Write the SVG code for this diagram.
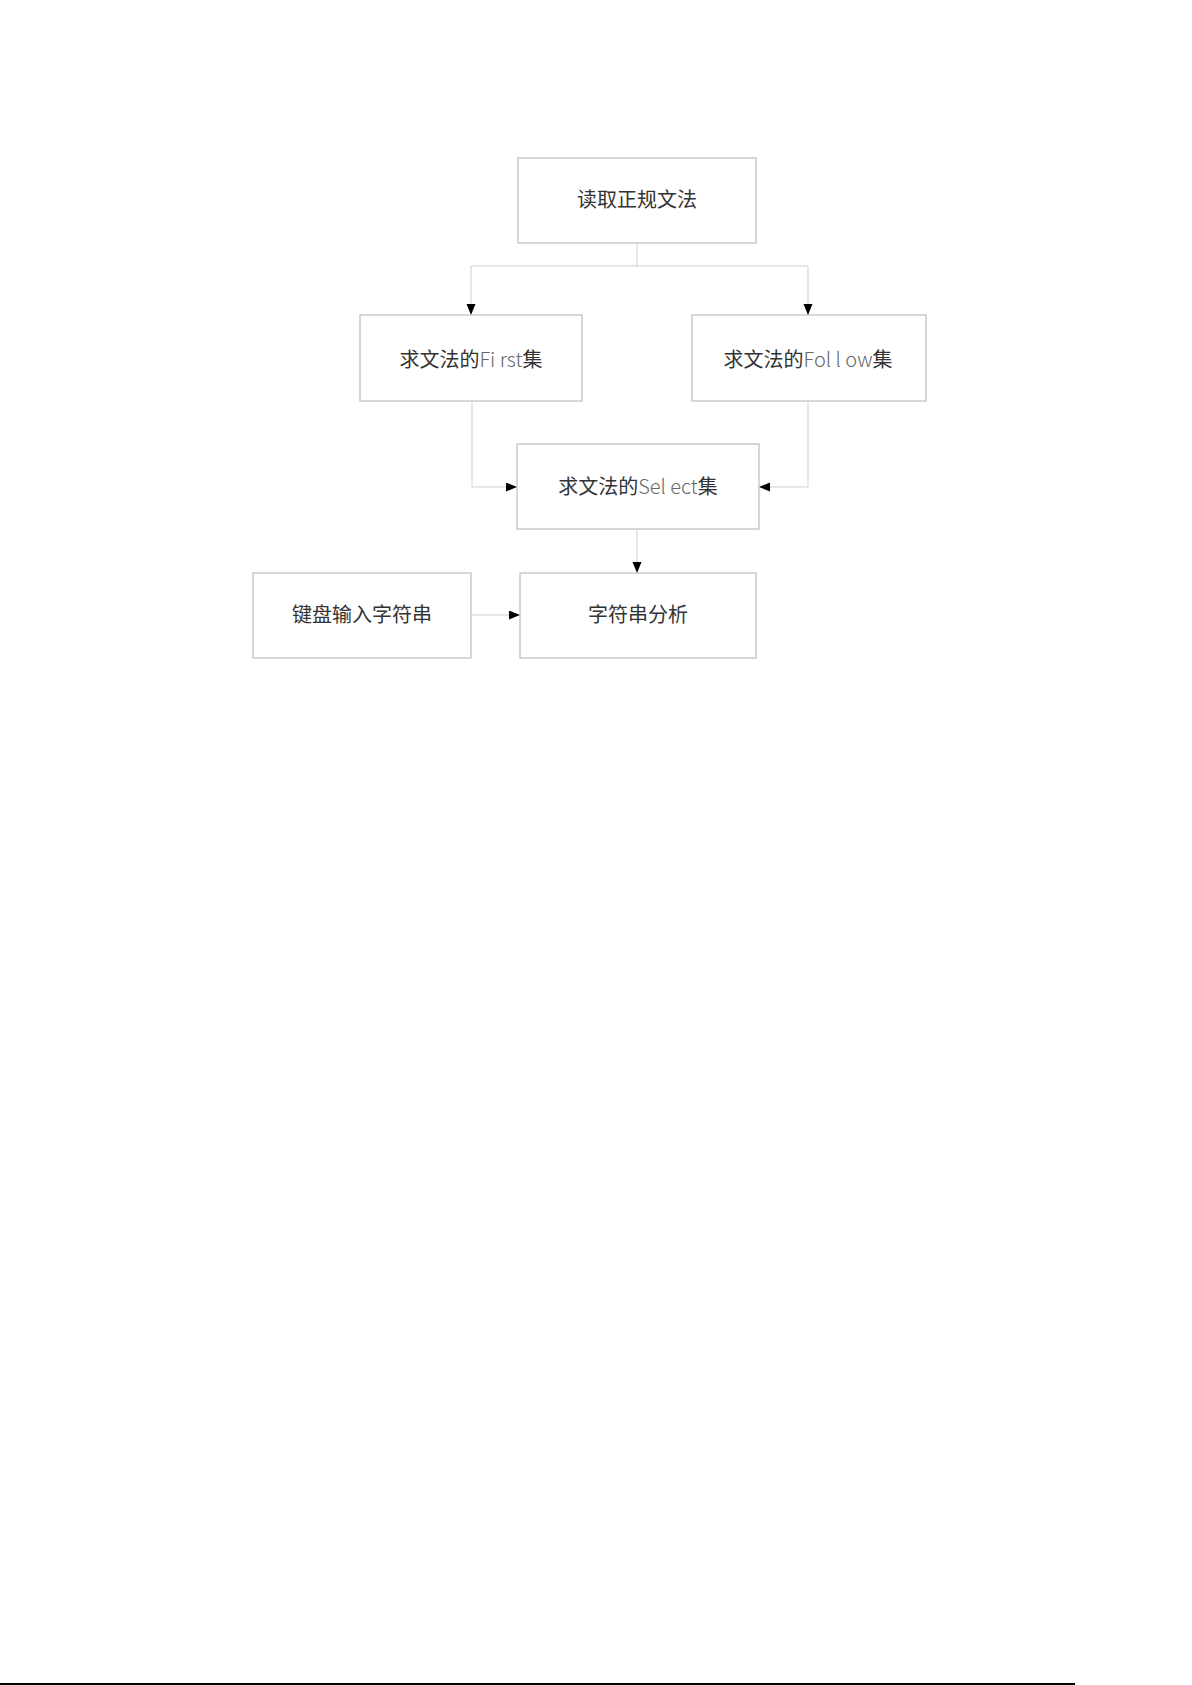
<svg xmlns="http://www.w3.org/2000/svg" width="1192" height="1685" viewBox="0 0 1192 1685">
<defs>
<style>
.box{fill:#fff;stroke:#bdbdbd;stroke-width:1.2}
.lbl{font-family:"Noto Sans CJK SC","Noto Sans",sans-serif;font-size:20px;fill:#333;text-anchor:middle}
.lat{fill:#666;font-weight:300}
.con{fill:none;stroke:#cfcfcf;stroke-width:1}
</style>
<marker id="ah" markerUnits="userSpaceOnUse" markerWidth="12" markerHeight="10" refX="11" refY="4.5" orient="auto">
<path d="M0,0 L11,4.5 L0,9 Z" fill="#000"/>
</marker>
</defs>
<rect width="1192" height="1685" fill="#fff"/>
<g id="connectors">
<path class="con" d="M637,243 V266 M471,266 H808"/>
<path class="con" d="M471,266 V315" marker-end="url(#ah)"/>
<path class="con" d="M808,266 V315" marker-end="url(#ah)"/>
<path class="con" d="M472,401 V487 H517" marker-end="url(#ah)"/>
<path class="con" d="M808,401 V487 H759" marker-end="url(#ah)"/>
<path class="con" d="M637,529 V573" marker-end="url(#ah)"/>
<path class="con" d="M471,615 H520" marker-end="url(#ah)"/>
</g>
<g id="n1">
<rect class="box" x="518" y="158" width="238" height="85"/>
<text class="lbl" x="637" y="207">读取正规文法</text>
</g>
<g id="n2">
<rect class="box" x="360" y="315" width="222" height="86"/>
<text class="lbl" x="471" y="367">求文法的<tspan class="lat">Fi rst</tspan>集</text>
</g>
<g id="n3">
<rect class="box" x="692" y="315" width="234" height="86"/>
<text class="lbl" x="808" y="367">求文法的<tspan class="lat">Fol l ow</tspan>集</text>
</g>
<g id="n4">
<rect class="box" x="517" y="444" width="242" height="85"/>
<text class="lbl" x="638" y="494">求文法的<tspan class="lat">Sel ect</tspan>集</text>
</g>
<g id="n5">
<rect class="box" x="253" y="573" width="218" height="85"/>
<text class="lbl" x="362" y="622">键盘输入字符串</text>
</g>
<g id="n6">
<rect class="box" x="520" y="573" width="236" height="85"/>
<text class="lbl" x="638" y="622">字符串分析</text>
</g>
<line x1="0" y1="1684" x2="1075" y2="1684" stroke="#000" stroke-width="2"/>
</svg>
